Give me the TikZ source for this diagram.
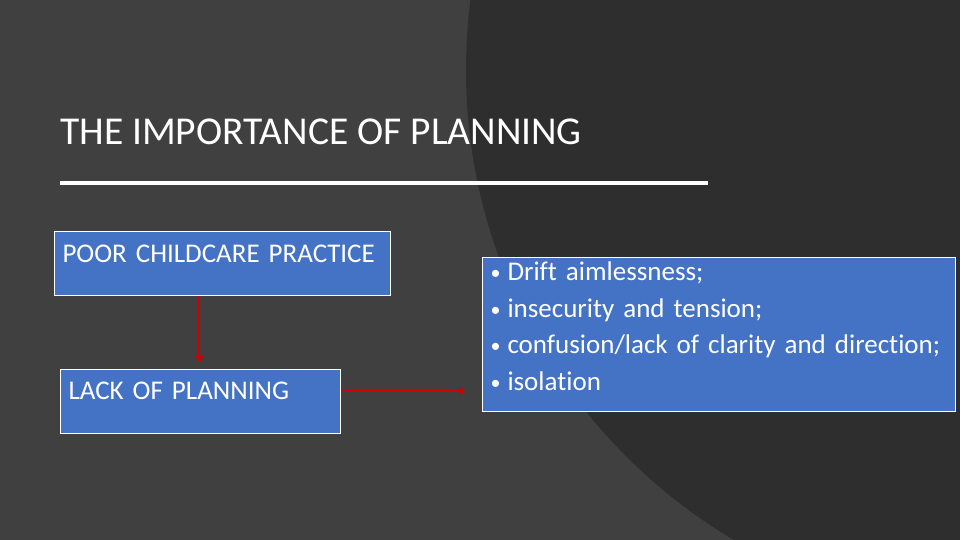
\documentclass[tikz,border=0pt]{standalone}
\usepackage{fontspec}
\setmainfont[Ligatures=NoCommon]{Carlito}
\usetikzlibrary{arrows.meta,calc}
\definecolor{bgL}{HTML}{404040}
\definecolor{bgD}{HTML}{2E2E2E}
\definecolor{boxblue}{HTML}{4472C4}
\definecolor{arrred}{HTML}{D00000}
\newcommand{\blt}{\makebox[17pt][l]{\raisebox{1pt}{\fontsize{20}{20}\selectfont •}}}
\begin{document}
\begin{tikzpicture}[x=1pt,y=-1pt,
  box/.style={draw=white, line width=1pt, fill=boxblue, text=white, anchor=north west,
    inner xsep=8pt, inner ysep=0pt, font=\fontsize{27}{36.7}\selectfont, align=left},
  arr/.style={draw=arrred, line width=2pt, -{Triangle[length=7pt,width=7pt]}}]
\useasboundingbox (0,0) rectangle (960,540);
\fill[bgL] (0,0) rectangle (960,540);
\begin{scope}
  \clip (0,0) rectangle (960,540);
  \fill[bgD] (1012,70) circle (546);
\end{scope}
\node[anchor=base west, inner sep=0pt, text=white, font=\fontsize{39.5}{48}\selectfont] (title) at (60,145) {THE IMPORTANCE OF PLANNING};
\coordinate (ulA) at (60,183);
\coordinate (ulB) at (708,183);
\draw[white, line width=3pt] (ulA) -- (ulB);
\node[box, text width=320pt, text height=31pt, text depth=33pt] (poor) at (54,231) {\mbox{POOR CHILDCARE PRACTICE}};
\node[box, text width=264pt, text height=30pt, text depth=34pt] (lack) at (60,369) {\mbox{LACK OF PLANNING}};
\node[box, text width=457pt, text height=23pt, text depth=130.7pt] (eff) at (482,257)
  {\mbox{\blt Drift aimlessness;}\\
   \mbox{\blt insecurity and tension;}\\
   \mbox{\blt confusion/lack of clarity and direction;}\\
   \mbox{\blt isolation}};
\coordinate (vs) at ($(poor.south west)!0.4315!(poor.south east)$);
\draw[arr, shorten >=6pt] (vs) -- (vs |- lack.north);
\coordinate (hs) at ($(lack.north east)!0.34!(lack.south east)$);
\draw[arr, shorten >=16pt] (hs) -- (hs -| eff.west);
\end{tikzpicture}
\end{document}
